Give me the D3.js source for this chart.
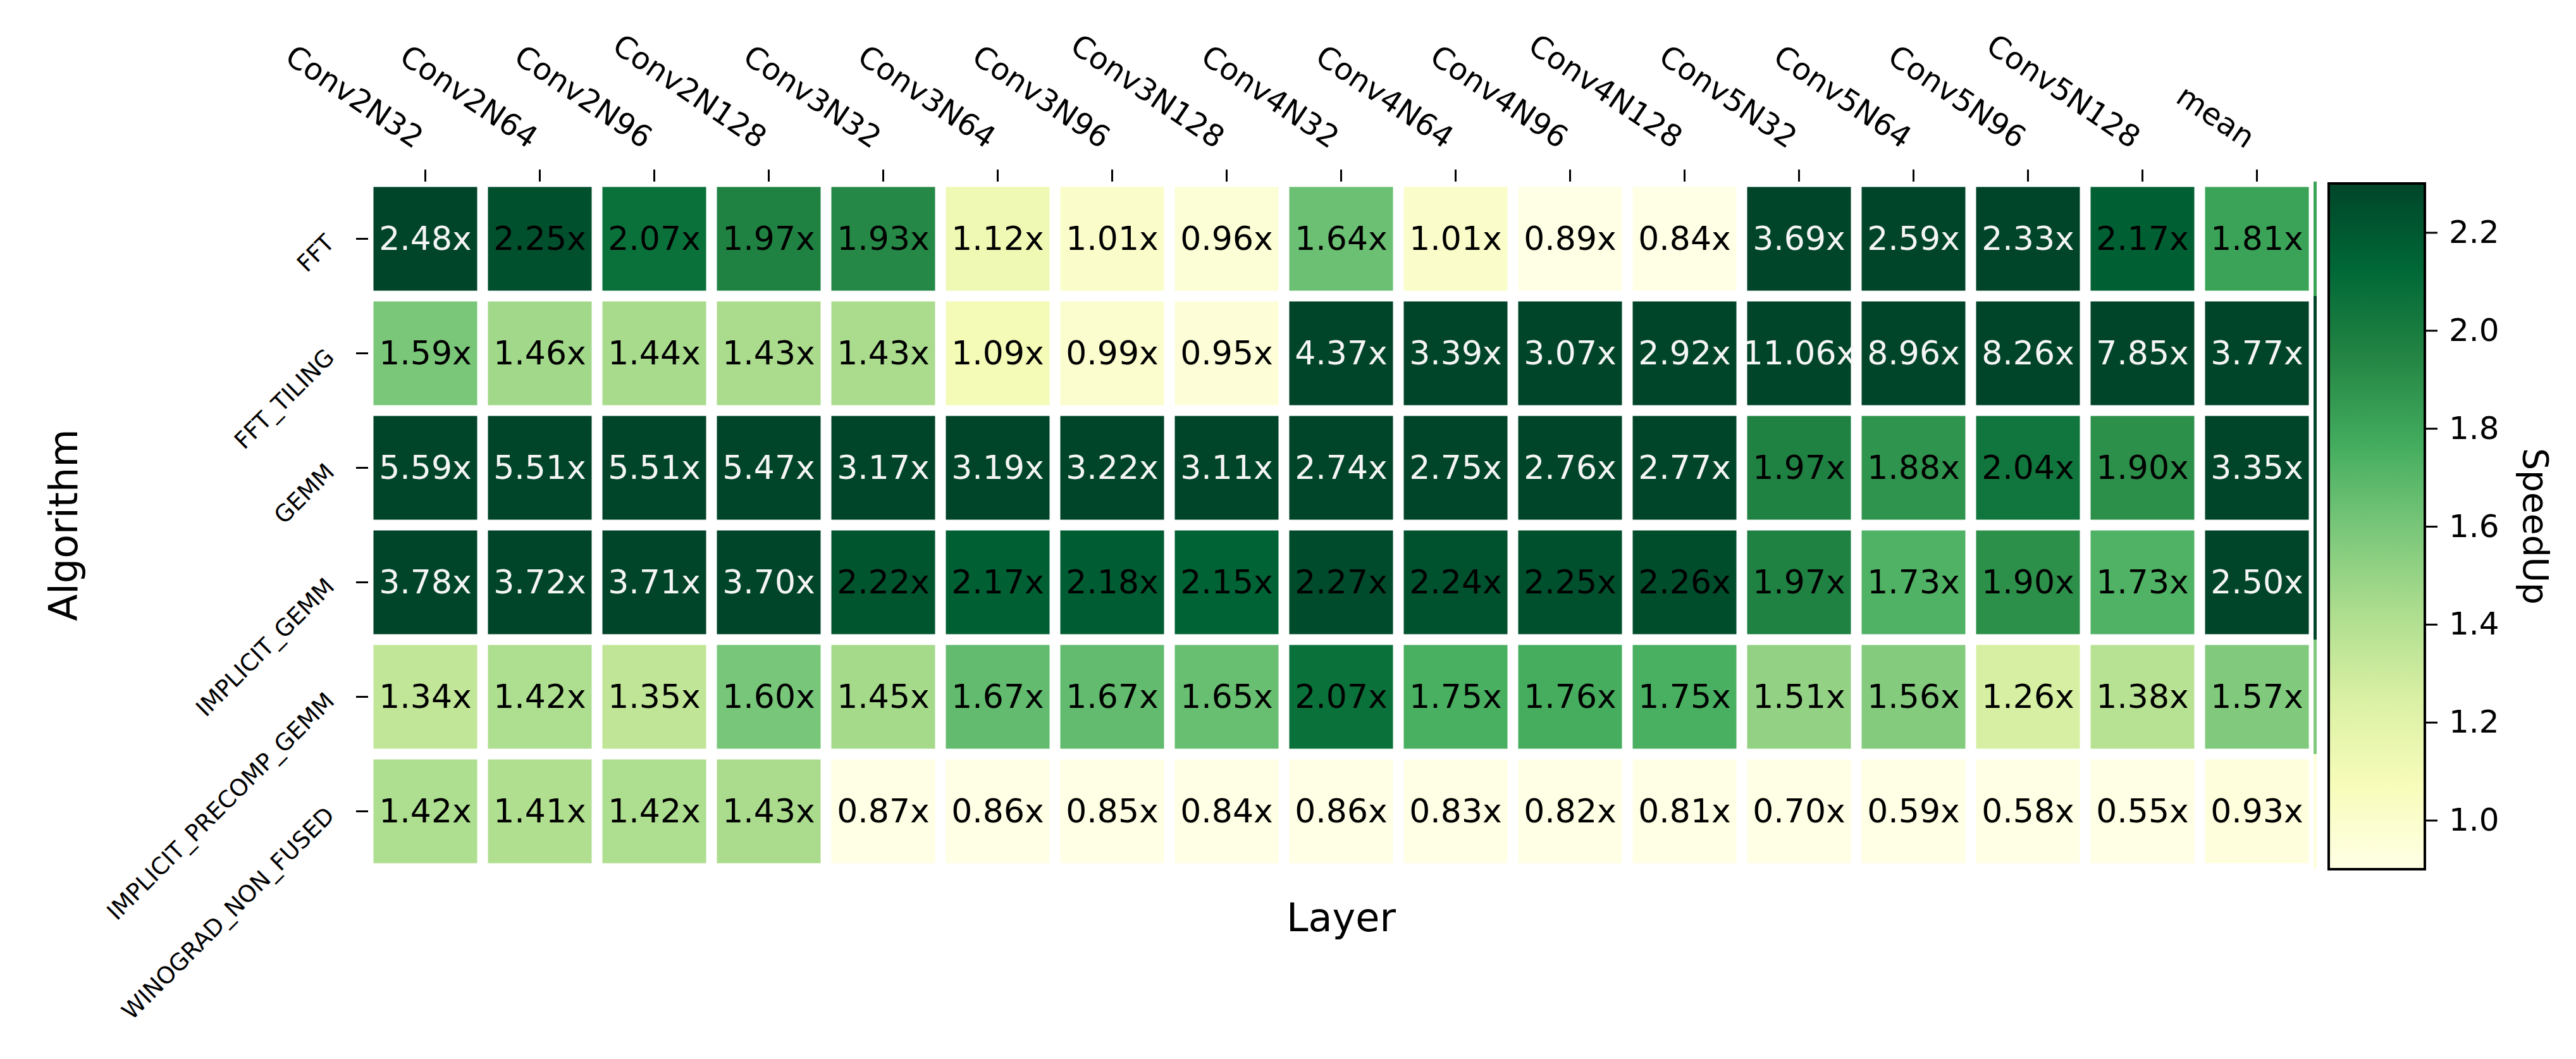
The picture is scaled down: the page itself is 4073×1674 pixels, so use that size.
<!DOCTYPE html>
<html><head><meta charset="utf-8">
<script src="https://cdn.jsdelivr.net/npm/d3@7"></script>
<style>html,body{margin:0;padding:0;background:#fff;}svg{display:block;font-family:"DejaVu Sans",sans-serif;}</style>
</head><body>
<script>
const layers = ["Conv2N32","Conv2N64","Conv2N96","Conv2N128","Conv3N32","Conv3N64","Conv3N96","Conv3N128","Conv4N32","Conv4N64","Conv4N96","Conv4N128","Conv5N32","Conv5N64","Conv5N96","Conv5N128","mean"];
const algorithms = ["FFT","FFT_TILING","GEMM","IMPLICIT_GEMM","IMPLICIT_PRECOMP_GEMM","WINOGRAD_NON_FUSED"];
const FFT = [2.48,2.25,2.07,1.97,1.93,1.12,1.01,0.96,1.64,1.01,0.89,0.84,3.69,2.59,2.33,2.17,1.81];
const FFT_TILING = [1.59,1.46,1.44,1.43,1.43,1.09,0.99,0.95,4.37,3.39,3.07,2.92,11.06,8.96,8.26,7.85,3.77];
const GEMM = [5.59,5.51,5.51,5.47,3.17,3.19,3.22,3.11,2.74,2.75,2.76,2.77,1.97,1.88,2.04,1.90,3.35];
const IMPLICIT_GEMM = [3.78,3.72,3.71,3.70,2.22,2.17,2.18,2.15,2.27,2.24,2.25,2.26,1.97,1.73,1.90,1.73,2.50];
const IMPLICIT_PRECOMP_GEMM = [1.34,1.42,1.35,1.60,1.45,1.67,1.67,1.65,2.07,1.75,1.76,1.75,1.51,1.56,1.26,1.38,1.57];
const WINOGRAD_NON_FUSED = [1.42,1.41,1.42,1.43,0.87,0.86,0.85,0.84,0.86,0.83,0.82,0.81,0.70,0.59,0.58,0.55,0.93];
const seriesValues = [FFT, FFT_TILING, GEMM, IMPLICIT_GEMM, IMPLICIT_PRECOMP_GEMM, WINOGRAD_NON_FUSED];
const colorbarTicks = [1.0,1.2,1.4,1.6,1.8,2.0,2.2];
const vmin = 0.9, vmax = 2.3;
const ylgn = ["#ffffe5","#f7fcb9","#d9f0a3","#addd8e","#78c679","#41ab5d","#238443","#006837","#004529"];

const W = 4073, H = 1674;
const x0 = 582, x1 = 3659, y0 = 287, y1 = 1373;
const svg = d3.select("body").append("svg").attr("width", W).attr("height", H);

const x = d3.scaleBand().domain(layers).range([x0, x1]);
const y = d3.scaleBand().domain(algorithms).range([y0, y1]);
const color = d3.scaleLinear()
  .domain(ylgn.map((c,i) => vmin + (vmax - vmin) * i / (ylgn.length - 1)))
  .range(ylgn).interpolate(d3.interpolateRgb).clamp(true);

const cells = [];
algorithms.forEach((a, i) => layers.forEach((l, j) => cells.push({a, l, v: seriesValues[i][j]})));

const inset = 8.5;
svg.append("g").selectAll("rect").data(cells).join("rect")
  .attr("x", d => x(d.l) + inset).attr("y", d => y(d.a) + inset)
  .attr("width", x.bandwidth() - 2*inset).attr("height", y.bandwidth() - 2*inset)
  .attr("fill", d => color(d.v));

// thin edge sliver at right of mesh
svg.append("g").selectAll("rect").data(algorithms).join("rect")
  .attr("x", x1 - 1).attr("y", (d) => y(d)).attr("width", 5).attr("height", y.bandwidth())
  .attr("fill", (d, i) => color(seriesValues[i][layers.length - 1]));

svg.append("g").selectAll("text").data(cells).join("text")
  .attr("x", d => x(d.l) + x.bandwidth()/2)
  .attr("y", d => y(d.a) + y.bandwidth()/2 + 17)
  .attr("text-anchor", "middle")
  .attr("font-size", 52)
  .attr("fill", d => d.v > vmax ? "#f5f5f5" : "#000000")
  .text(d => d.v.toFixed(2) + "x");

// top ticks
const xAxis = svg.append("g");
xAxis.selectAll("line").data(layers).join("line")
  .attr("x1", d => x(d) + x.bandwidth()/2).attr("x2", d => x(d) + x.bandwidth()/2)
  .attr("y1", y0 - 19).attr("y2", y0).attr("stroke", "#000").attr("stroke-width", 3);
xAxis.selectAll("text").data(layers).join("text")
  .attr("transform", d => `translate(${x(d) + x.bandwidth()/2 - 18},236) rotate(34)`)
  .attr("text-anchor", "end").attr("font-size", 48).attr("fill", "#000")
  .text(d => d);

// left ticks
const yAxis = svg.append("g");
yAxis.selectAll("line").data(algorithms).join("line")
  .attr("y1", d => y(d) + y.bandwidth()/2).attr("y2", d => y(d) + y.bandwidth()/2)
  .attr("x1", x0 - 19).attr("x2", x0).attr("stroke", "#000").attr("stroke-width", 3);
yAxis.selectAll("text").data(algorithms).join("text")
  .attr("transform", d => `translate(522,${y(d) + y.bandwidth()/2}) rotate(-45)`)
  .attr("text-anchor", "end").attr("dominant-baseline", "central")
  .attr("font-size", 37).attr("fill", "#000")
  .text(d => d);

// axis labels
svg.append("text").attr("x", (x0 + x1)/2).attr("y", 1472).attr("text-anchor", "middle")
  .attr("font-size", 62).attr("fill", "#000").text("Layer");
svg.append("text").attr("transform", `translate(122,${(y0 + y1)/2}) rotate(-90)`)
  .attr("text-anchor", "middle").attr("font-size", 62).attr("fill", "#000").text("Algorithm");

// colorbar
const cbX = 3682, cbW = 152, cbTop = 290, cbBot = 1374;
const cb = d3.scaleLinear().domain([vmin, vmax]).range([cbBot, cbTop]);
const defs = svg.append("defs");
const grad = defs.append("linearGradient").attr("id", "cbgrad")
  .attr("x1", 0).attr("y1", 1).attr("x2", 0).attr("y2", 0);
ylgn.forEach((c, i) => grad.append("stop").attr("offset", i / (ylgn.length - 1)).attr("stop-color", c));
svg.append("rect").attr("x", cbX).attr("y", cbTop).attr("width", cbW).attr("height", cbBot - cbTop)
  .attr("fill", "url(#cbgrad)");
const cbAxis = svg.append("g").attr("transform", `translate(${cbX + cbW},0)`)
  .call(d3.axisRight(cb).tickValues(colorbarTicks).tickFormat(d3.format(".1f")).tickSize(20).tickPadding(18));
cbAxis.select(".domain").remove();
cbAxis.selectAll("line").attr("stroke", "#000").attr("stroke-width", 3);
cbAxis.selectAll("text").attr("font-size", 50).attr("fill", "#000").attr("font-family", "DejaVu Sans");
svg.append("rect").attr("x", cbX).attr("y", cbTop).attr("width", cbW).attr("height", cbBot - cbTop)
  .attr("fill", "none").attr("stroke", "#000").attr("stroke-width", 4);
svg.append("text").attr("transform", `translate(3990,${(cbTop + cbBot)/2}) rotate(90)`)
  .attr("text-anchor", "middle").attr("font-size", 55).attr("fill", "#000").text("SpeedUp");
</script>
</body></html>
